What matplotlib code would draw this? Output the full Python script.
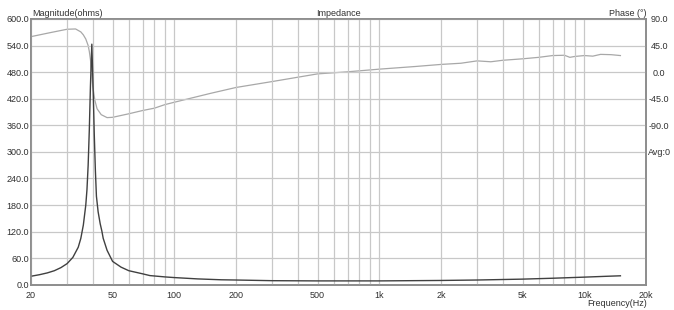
import matplotlib
matplotlib.use('Agg')
import matplotlib.pyplot as plt
from matplotlib.ticker import FixedLocator, NullFormatter

plt.rcParams['font.family'] = ['Liberation Sans', 'DejaVu Sans']

# impedance magnitude (ohms)
mag_freq = [20, 22, 24, 26, 28, 30, 32, 34, 35, 36, 37, 37.5, 38, 38.5, 39, 39.6,
            40.2, 40.7, 41.2, 41.7, 42.5, 43.5, 44.3, 45, 47, 50, 55, 60, 70, 76,
            90, 100, 130, 170, 200, 300, 500, 1000, 2000, 3000, 5000, 7000,
            10000, 13000, 15000]
mag_ohms = [19.5, 23, 27, 32, 39, 48, 62, 85, 105, 135, 180, 215, 270, 350, 450, 543,
            440, 340, 260, 200, 165, 138, 122, 105, 78, 53, 40, 32, 25, 21,
            18, 16.5, 13.5, 11.5, 11, 9.5, 9, 9, 10, 11, 13, 15,
            17.5, 19.5, 20.5]

# phase (degrees)
ph_freq = [20, 25, 30, 33, 35, 36, 37, 38, 38.5, 39, 39.5, 40, 41, 42, 44, 47, 50,
           60, 70, 80, 90, 100, 150, 200, 300, 500, 700, 1000, 1500, 2000, 2500,
           3000, 3500, 4000, 5000, 6000, 7000, 8000, 8500, 9000, 10000, 11000,
           12000, 13500, 15000]
ph_deg = [60, 67, 72.5, 73, 68, 63, 56, 45, 35, 21, 0, -24, -48, -62, -72, -77, -76.5,
          -70.5, -65, -61, -55, -51, -36, -26, -16, -3, 0.5, 5, 9.5, 13, 15,
          19, 17.5, 20, 22.5, 25, 28, 28.5, 25, 26.5, 28, 27, 30, 29.5, 28]

x_ticks = [20, 50, 100, 200, 500, 1000, 2000, 5000, 10000, 20000]
x_labels = ['20', '50', '100', '200', '500', '1k', '2k', '5k', '10k', '20k']
mag_ticks = [0, 60, 120, 180, 240, 300, 360, 420, 480, 540, 600]
ph_ticks = [90, 45, 0, -45, -90, -135]
ph_labels = ['90.0', '45.0', '0.0', '-45.0', '-90.0', 'Avg:0']

fs = 6.5
fig = plt.figure(figsize=(6.74, 3.10), dpi=100)
ax = fig.add_axes([0.046, 0.081, 0.9125, 0.858])
ax2 = ax.twinx()

grid_c = '#c8c8c8'
txt_c = '#303030'

ax.set_xscale('log')
ax.set_xlim(20, 20000)
ax.set_ylim(0, 600)
ax2.set_ylim(-360, 90)

minor = [m * d for d in (10, 100, 1000) for m in range(2, 10) if 20 < m * d < 20000]
ax.xaxis.set_major_locator(FixedLocator(x_ticks))
ax.xaxis.set_minor_locator(FixedLocator(minor))
ax.xaxis.set_minor_formatter(NullFormatter())
ax.set_xticklabels(x_labels)
ax.set_yticks(mag_ticks)
ax.set_yticklabels(['%.1f' % v for v in mag_ticks])
ax2.set_yticks(ph_ticks)
ax2.set_yticklabels(ph_labels, ha='center')

ax.grid(True, which='both', axis='x', color=grid_c, lw=0.9)
ax.grid(True, axis='y', color=grid_c, lw=0.9)

ax2.plot(ph_freq, ph_deg, color='#a8a8a8', lw=0.9)
ax.plot(mag_freq, mag_ohms, color='#404040', lw=1.0)
ax.set_zorder(ax2.get_zorder() + 1)
ax.patch.set_visible(False)

for a in (ax, ax2):
    a.tick_params(which='both', length=0, labelsize=fs, colors=txt_c)
    for s in a.spines.values():
        s.set_color('#8c8c8c')
        s.set_linewidth(1.2)
ax.tick_params(axis='x', pad=4.5)
ax.tick_params(axis='y', pad=1.5)
ax2.tick_params(axis='y', pad=9.4)

fig.text(0.0475, 0.955, 'Magnitude(ohms)', fontsize=fs, color=txt_c, va='center')
fig.text(0.502, 0.955, 'Impedance', fontsize=fs, color=txt_c, va='center', ha='center')
fig.text(0.9585, 0.955, 'Phase (°)', fontsize=fs, color=txt_c, va='center', ha='right')
fig.text(0.96, 0.02, 'Frequency(Hz)', fontsize=fs, color=txt_c, va='center', ha='right')

fig.savefig('out.png', dpi=100, facecolor='white')
